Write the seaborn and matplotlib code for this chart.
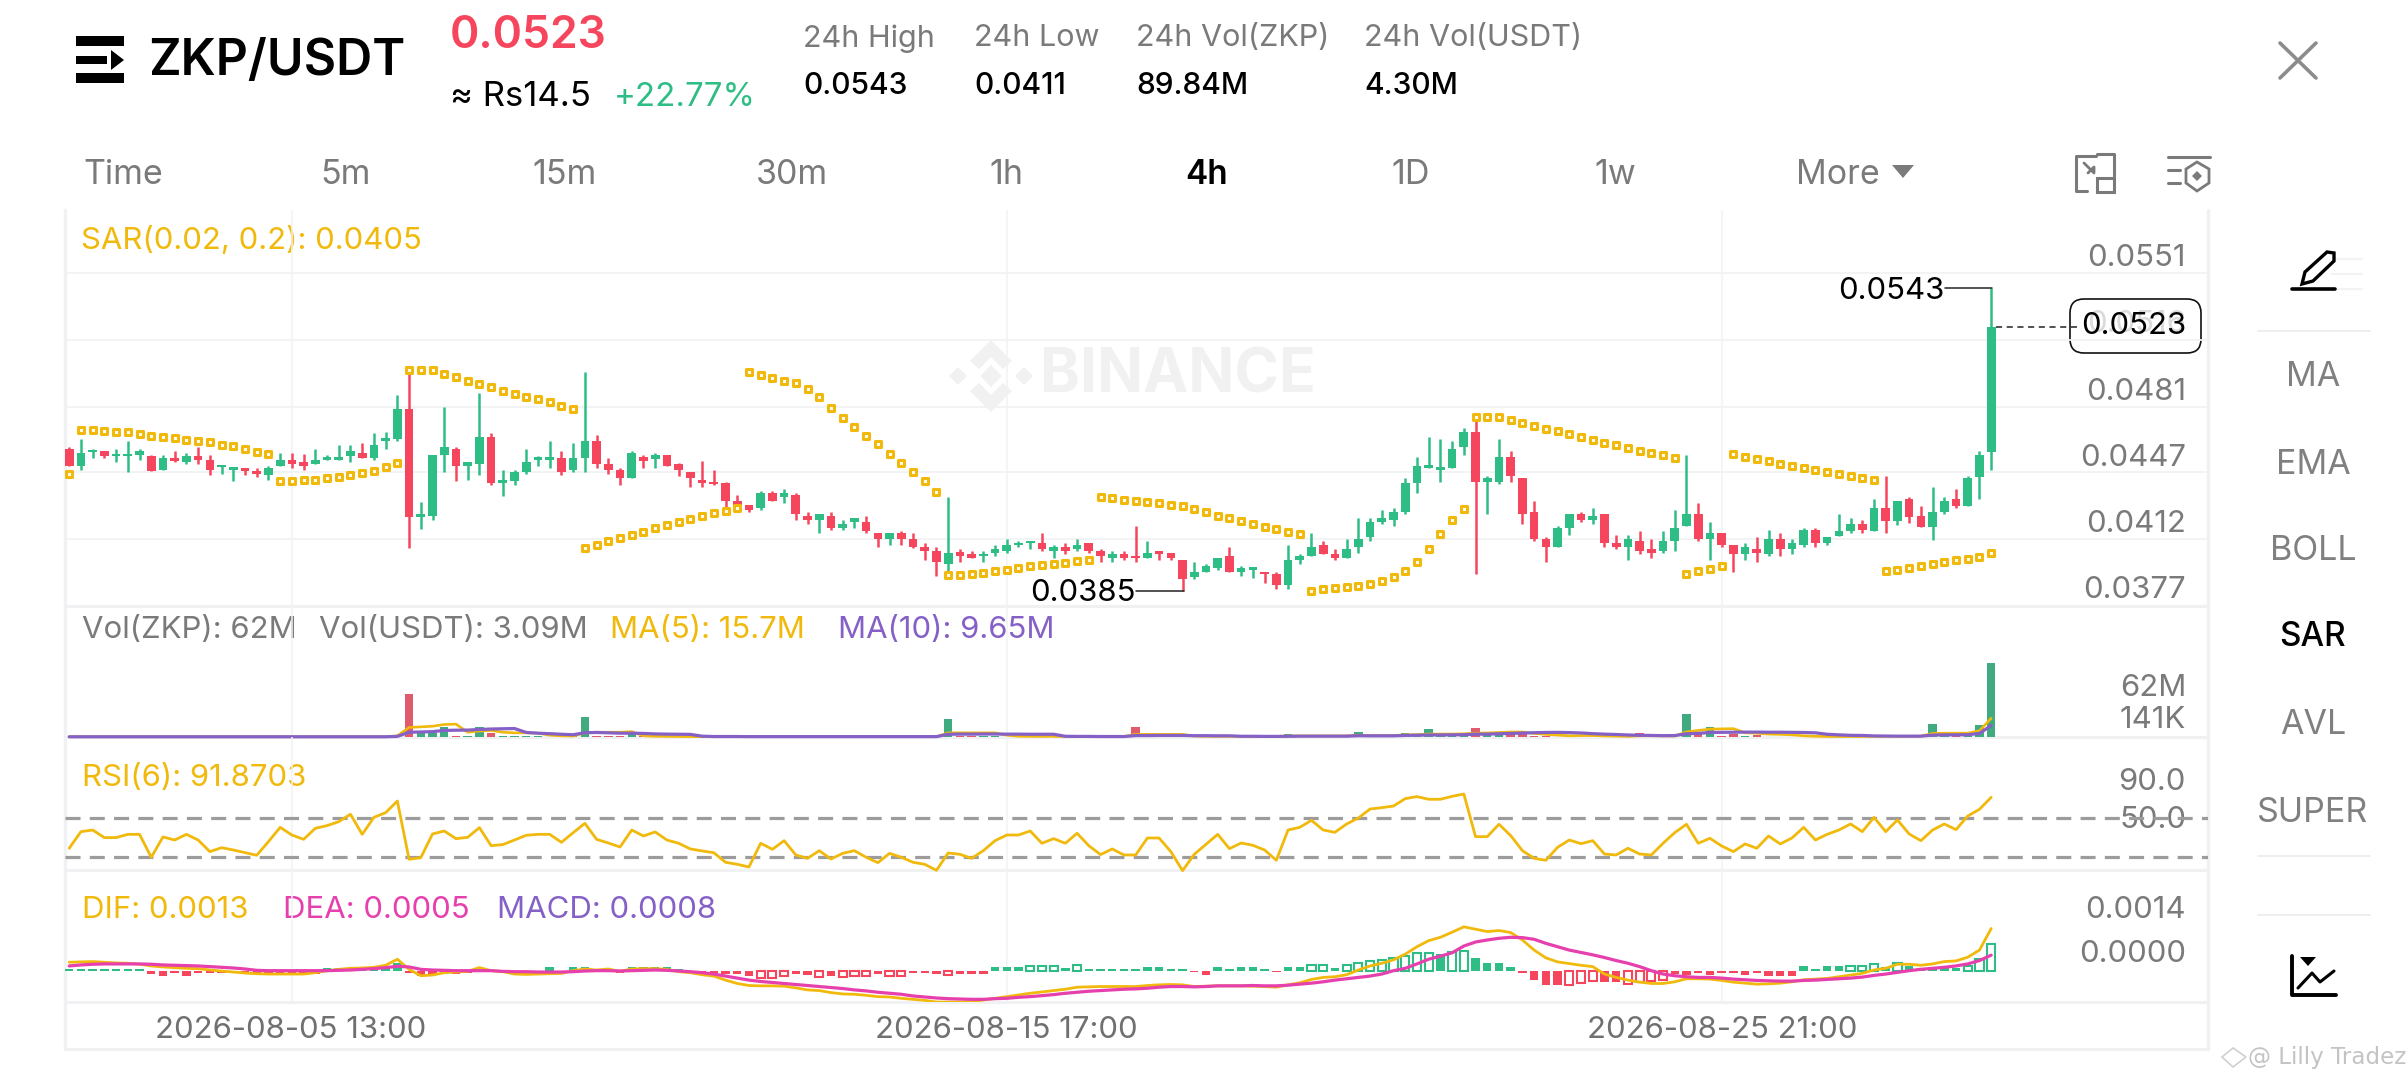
import numpy as np
import pandas as pd
import matplotlib.pyplot as plt
import seaborn as sns
from matplotlib.patches import FancyBboxPatch, Polygon, Rectangle

# 4h candles, prices in 1e-5 USDT
opens = [4592,4503,4574,4580,4552,4552,4560,4552,4482,4541,
         4520,4552,4531,4494,4482,4491,4473,4453,4503,4531,
         4522,4512,4533,4533,4552,4571,4541,4634,4644,4801,
         4233,4242,4560,4592,4503,4512,4653,4413,4421,4472,
         4533,4533,4541,4482,4541,4632,4512,4480,4440,4550,
         4539,4558,4510,4470,4430,4419,4411,4320,4299,4280,
         4360,4339,4350,4240,4219,4240,4179,4210,4210,4150,
         4120,4150,4120,4080,4059,3990,4050,4040,4030,4049,
         4059,4089,4099,4097,4059,4078,4070,4097,4059,4019,
         4040,4030,4019,4059,4049,4010,3920,3950,3970,4030,
         3950,3960,3950,3939,3878,4010,4030,4089,4040,4019,
         4078,4129,4210,4219,4259,4411,4491,4480,4491,4600,
         4679,4419,4419,4550,4440,4259,4120,4080,4179,4250,
         4219,4250,4099,4080,4110,4070,4059,4110,4190,4250,
         4120,4150,4089,4040,4070,4040,4120,4070,4089,4169,
         4099,4134,4160,4200,4163,4280,4212,4331,4242,4183,
         4261,4331,4291,4442,4572]
highs = [4600,4642,4592,4580,4592,4632,4592,4560,4560,4581,
         4571,4602,4560,4507,4496,4491,4491,4503,4571,4571,
         4562,4592,4560,4611,4611,4621,4672,4681,4872,5002,
         4312,4560,4811,4600,4522,4882,4672,4482,4482,4592,
         4552,4632,4581,4621,4992,4661,4543,4489,4579,4558,
         4567,4558,4518,4470,4529,4480,4419,4350,4299,4369,
         4371,4379,4360,4259,4249,4259,4219,4230,4240,4150,
         4150,4160,4150,4097,4078,4339,4070,4059,4059,4089,
         4120,4110,4111,4150,4089,4097,4120,4097,4070,4059,
         4059,4190,4110,4059,4049,4010,4000,3990,4019,4080,
         3979,3974,3950,3948,4089,4040,4150,4110,4070,4120,
         4230,4230,4270,4280,4440,4550,4651,4640,4630,4699,
         4759,4449,4640,4579,4440,4320,4129,4190,4250,4259,
         4280,4250,4139,4139,4160,4120,4160,4270,4558,4310,
         4209,4150,4089,4099,4129,4169,4150,4120,4179,4179,
         4130,4250,4230,4221,4329,4451,4320,4341,4291,4391,
         4339,4381,4447,4581,5430]
lows = [4503,4482,4543,4541,4520,4472,4531,4473,4482,4520,
        4512,4512,4453,4461,4421,4453,4442,4430,4503,4491,
        4482,4512,4533,4533,4520,4541,4533,4592,4634,4073,
        4172,4221,4472,4421,4430,4453,4402,4343,4402,4461,
        4501,4493,4453,4472,4472,4493,4461,4400,4440,4489,
        4489,4501,4451,4390,4390,4400,4289,4299,4259,4270,
        4320,4310,4219,4200,4150,4169,4169,4179,4150,4080,
        4089,4089,4071,4010,3929,3955,4000,4021,4000,4030,
        4049,4078,4070,4059,4019,4040,4059,4049,4000,4000,
        4010,4000,4019,4010,4010,3849,3909,3950,3960,3950,
        3929,3918,3889,3859,3859,3990,4030,4040,4009,4019,
        4049,4110,4200,4190,4250,4360,4491,4419,4491,4560,
        3939,4249,4409,4419,4200,4110,4000,4080,4139,4209,
        4200,4080,4070,4010,4040,4019,4049,4059,4190,4110,
        4010,4080,3950,4010,4000,4030,4030,4040,4080,4080,
        4090,4134,4151,4151,4163,4151,4191,4202,4183,4113,
        4250,4280,4291,4331,4482]
closes = [4503,4571,4587,4552,4566,4566,4578,4473,4541,4526,
          4552,4533,4482,4507,4496,4473,4461,4493,4531,4512,
          4503,4531,4547,4550,4581,4541,4611,4646,4801,4233,
          4251,4560,4600,4503,4522,4653,4413,4426,4472,4522,
          4550,4550,4472,4541,4632,4512,4482,4440,4571,4529,
          4558,4501,4480,4440,4411,4409,4320,4299,4270,4360,
          4320,4360,4249,4219,4249,4179,4200,4230,4160,4120,
          4150,4120,4080,4059,4000,4049,4030,4021,4040,4070,
          4089,4099,4110,4070,4078,4059,4089,4059,4030,4040,
          4019,4019,4049,4040,4019,3909,3950,3979,4019,3950,
          3969,3974,3936,3878,4009,4030,4078,4040,4019,4070,
          4120,4209,4230,4259,4411,4499,4505,4494,4590,4679,
          4419,4438,4550,4451,4250,4120,4080,4179,4250,4219,
          4240,4099,4078,4120,4059,4049,4110,4179,4250,4120,
          4150,4089,4040,4078,4049,4120,4070,4099,4169,4099,
          4130,4160,4200,4169,4280,4212,4320,4233,4183,4261,
          4320,4291,4438,4560,5230]
sar = [4460,4691,4689,4682,4679,4677,4667,4660,4653,4646,4639,4630,4625,4613,4604,4590,4574,4564,
       4421,4423,4426,4430,4437,4444,4454,4463,4475,4496,4517,
       5002,5002,5002,4983,4964,4947,4929,4912,4895,4879,4863,4849,4834,4816,4801,
       4073,4091,4108,4125,4141,4158,4176,4191,4209,4224,4240,4254,4268,4282,
       4990,4976,4962,4948,4933,4905,4863,4806,4753,4705,4659,4618,4565,4517,4471,4423,4367,
       3930,3930,3937,3944,3951,3960,3969,3977,3983,3990,3996,4003,4010,
       4339,4332,4325,4318,4313,4306,4299,4292,4277,4259,4242,4228,4212,4198,4183,4170,4158,4144,
       3850,3857,3862,3869,3875,3887,3901,3924,3953,4000,4066,4148,4219,4278,
       4759,4759,4759,4743,4728,4711,4697,4683,4667,4652,4637,4623,4609,4595,4581,4569,4557,4544,
       3939,3951,3965,3977,
       4562,4548,4539,4525,4513,4503,4492,4480,4470,4459,4449,4438,4430,
       3951,3960,3970,3981,3990,4000,4009,4017,4026,4047]

# volume in millions
volume = [.2,.2,.2,.2,.2,.2,.2,.2,.2,.2, .2,.2,.2,.2,.2,.2,.2,.2,.2,.2,
          .2,.2,.2,.2,.2,.2,.2,.2,.3,36, 3.3,3.3,8.3,.8,.6,8.6,3.3,.7,.6,.5,
          .5,.4,.4,.8,16.7,1,.6,.8,4,.6, .3,.3,.3,.3,.3,.3,.3,.3,.3,.3,
          .3,.3,.3,.3,.3,.3,.3,.3,.3,.3, .3,.3,.3,.3,.3,14.7,.5,.5,.5,.5,
          .4,.4,.4,.3,.3,.3,.3,.3,.3,.3, .4,8,.4,.4,.4,.5,.4,.4,.4,.4,
          .4,.4,.4,.4,2.5,.4,.4,.4,.4,.4, 4,.4,.4,.4,3.3,1.5,6.7,3.3,.5,3,
          7.2,4,4,4,3.3,.5,.5,.4,1,.4, .4,.4,.4,.4,3,.4,.4,.4,19,4,
          8.3,.5,2.7,.5,1.5,.4,.4,.4,.4,.3, .3,.3,.3,.3,.3,.3,.3,.3,.4,11,
          .5,.5,.5,10,62]
vol_ma5 = [.2,.2,.2,.2,.2,.2,.2,.2,.2,.2, .2,.2,.2,.2,.2,.2,.2,.2,.2,.2,
           .2,.2,.2,.2,.2,.2,.2,.2,1,8, 8.5,9,10.5,10.8,4,5,5.5,4,3.5,3.5,
           3.2,1.5,1,.8,3.5,4,4,4,4.5,1, .6,.5,.4,.3,.3,.3,.3,.3,.3,.3,
           .3,.3,.3,.3,.3,.3,.3,.3,.3,.3, .3,.3,.3,.3,.3,3.5,3.5,3.5,3.5,3.5,
           1.5,.6,.5,.5,.5,.4,.4,.4,.4,.4, .4,2.2,2.2,2.2,2.2,2.2,.8,.6,.5,.5,
           .5,.5,.5,.5,.8,.9,.9,.9,.9,.9, 1.5,1.2,1.2,1.2,1.8,2,2.5,2.5,2.5,2.7,
           3.2,3.4,3.8,4.2,4.2,3,2.2,1.6,1,1.2, 1.2,.9,.7,.5,1,1,.9,.8,4.3,5.5,
           6.6,6.8,7,3.5,3.2,2.4,2.2,1.8,1,.6, .4,.4,.4,.4,.5,.5,.6,.6,.7,3,
           3.2,3.2,3.2,5.2,15.7]
vol_ma10 = [.2,.2,.2,.2,.2,.2,.2,.2,.2,.2, .2,.2,.2,.2,.2,.2,.2,.2,.2,.2,
            .2,.2,.2,.2,.2,.2,.2,.2,.5,4, 4.2,4.5,5.5,5.7,5.8,6.3,6.7,6.9,7.1,3.8,
            3.2,2.8,2.3,1.9,3.6,3.8,3.5,3.2,3.2,3, 2.6,2.4,2.3,2.2,.7,.4,.4,.4,.3,.3,
            .3,.3,.3,.3,.3,.3,.3,.3,.3,.3, .3,.3,.3,.3,.3,2.3,2.4,2.4,2.5,2.5,
            2.4,2.4,2.3,2.3,2.3,.6,.5,.5,.4,.4, .4,1.2,1.2,1.3,1.3,1.3,1.1,1.1,1,1,
            .6,.6,.5,.5,.6,.7,.7,.7,.7,.7, 1.1,1,1,1,1.3,1.5,1.7,1.7,1.8,1.9,
            2.4,2.4,2.7,3,3.3,3.6,3.8,3.9,3.7,3.4, 2.8,2.4,2.1,1.7,1.4,1.3,1.1,1.2,2.7,3,
            3.8,3.9,4,4.1,4.1,4,4,3.9,3.8,3.5, 2.3,1.8,1.4,1.3,.9,.8,.7,.7,.7,1.6,
            1.8,1.8,1.9,3,9.65]

rsi = [38.8,56.1,57.8,49.9,49.9,53.3,53.3,29.4,50.6,47.4,
       53.3,47.4,35.3,39.4,37.0,34.2,31.5,45.7,60.6,52.6,
       48.1,59.6,62.4,66.5,74.2,53.3,71.0,75.9,88.0,27.3,
       29.0,53.7,56.8,48.8,50.2,60.3,41.5,42.6,47.4,52.3,
       53.3,53.3,45.0,55.0,64.8,48.1,44.3,40.1,57.8,51.6,
       55.8,47.4,44.0,38.1,36.0,34.2,24.2,22.1,19.3,44.0,
       37.7,46.7,31.8,28.3,36.3,27.6,33.5,36.3,29.4,23.8,
       33.5,29.4,24.2,22.1,15.8,33.9,32.5,28.3,36.3,46.7,
       52.6,52.6,56.8,44.0,48.8,44.0,54.4,41.5,32.2,38.1,
       31.8,31.8,49.5,49.5,35.3,15.5,32.5,42.9,53.3,38.4,
       44.3,41.9,37.0,26.3,57.8,60.6,67.9,57.8,55.4,64.1,
       70.3,79.7,81.1,82.8,90.5,92.6,89.8,89.8,92.9,95.3,
       50.9,50.9,63.8,52.0,36.3,28.3,26.3,39.8,47.4,43.6,
       46.7,32.8,31.8,38.8,32.8,31.8,44.0,55.1,63.8,44.0,
       49.2,41.2,35.3,43.3,38.8,51.6,43.3,49.5,60.6,47.4,
       53.3,57.8,64.1,56.1,71.0,56.1,68.3,53.7,46.7,57.8,
       64.1,58.2,72.4,79.4,91.87]

# MACD panel values in 1e-4
dif = [2.6,2.7,2.8,2.6,2.4,2.3,2.0,1.5,1.2,1.0,
       .8,.7,.3,0,-.3,-.6,-.8,-.9,-.9,-.9,
       -.9,-.5,.1,.5,.8,.9,1.1,1.7,3.5,.5,
       -1.4,-1.2,-.5,-.3,-.1,1.0,.1,-.2,-.9,-1.0,
       -.9,-.8,-.7,.1,.6,.3,.6,-.1,.6,.7,
       .7,.5,-.2,-.5,-1.1,-1.5,-2.7,-3.7,-4.3,-4.4,
       -4.4,-4.5,-5.0,-5.6,-5.8,-6.4,-6.8,-6.9,-7.2,-7.6,
       -7.7,-8.1,-8.4,-8.7,-9.2,-9.2,-9.2,-9.1,-8.6,-8.1,
       -7.6,-7.1,-6.6,-6.2,-5.8,-5.4,-4.8,-4.7,-4.6,-4.6,
       -4.6,-4.6,-4.3,-4.1,-4.0,-4.1,-4.6,-4.5,-4.4,-4.4,
       -4.4,-4.5,-4.6,-4.8,-4.1,-3.5,-2.5,-1.9,-1.7,-1.1,
       .3,1.5,2.3,3.3,5.0,7.2,9.0,10.0,11.5,13.1,
       12.4,11.7,12.0,11.4,9.2,6.2,3.9,2.7,2.2,1.7,
       1.3,-.9,-1.9,-2.7,-3.3,-3.7,-3.7,-3.2,-2.3,-2.3,
       -2.4,-2.8,-3.3,-3.6,-3.9,-3.8,-3.6,-3.2,-2.6,-2.4,
       -2.2,-1.7,-1.2,-.7,.3,.8,2.0,2.0,1.7,2.1,
       2.8,3.0,4.1,6.2,12.6]
dea = [1.5,1.8,2.0,2.1,2.1,2.1,2.1,2.0,1.8,1.7,
       1.6,1.5,1.3,1.1,.9,.6,.2,.1,.1,.1,
       .1,.1,.1,.2,.3,.5,.7,1.0,1.4,1.2,
       .5,.3,.2,.1,.1,.1,.1,-.1,-.2,-.2,
       -.3,-.3,-.3,-.2,0,.1,.1,0,.1,.2,
       .3,.2,0,-.2,-.5,-.9,-1.5,-2.1,-2.7,-3.1,
       -3.4,-3.7,-4.0,-4.3,-4.6,-4.9,-5.2,-5.6,-5.9,-6.3,
       -6.6,-6.9,-7.4,-7.7,-8.0,-8.2,-8.3,-8.4,-8.4,-8.2,
       -8.1,-7.8,-7.6,-7.3,-7.0,-6.6,-6.3,-6.0,-5.8,-5.6,
       -5.4,-5.3,-5.1,-4.8,-4.6,-4.6,-4.7,-4.6,-4.4,-4.4,
       -4.4,-4.3,-4.4,-4.4,-4.2,-3.9,-3.6,-3.2,-2.7,-2.3,
       -1.9,-1.5,-.9,.1,.8,2.1,3.5,4.4,5.4,7.4,
       8.6,9.2,9.7,10.0,9.9,9.4,8.2,7.2,6.2,5.5,
       4.8,4.0,3.1,2.3,1.3,.1,-.9,-1.4,-1.7,-1.9,
       -1.9,-2.1,-2.4,-2.6,-2.8,-2.9,-3.0,-3.0,-2.8,-2.7,
       -2.5,-2.3,-2.1,-1.8,-1.3,-.9,-.4,.1,.5,.8,
       1.1,1.5,2.1,3.1,4.7]
macd = [.7,.7,.7,.7,.7,.7,.7,-.8,-1.5,-.7,
        -1.5,-.7,-.7,-.7,-.7,-.8,-.8,-.8,-.8,-.8,
        -.8,-.8,1.0,1.0,1.0,1.3,1.3,1.3,2.5,-.6,
        -1.5,-1.0,-.6,-.8,-.6,1.0,-.4,-.6,-.8,-.8,
        -.8,1.3,-.9,1.3,1.3,.5,.5,-.5,1.2,1.2,
        1.2,1.2,.5,-.4,-.4,-.5,-1.0,-1.0,-1.5,-2.0,
        -2.0,-1.5,-1.0,-1.2,-1.8,-1.5,-1.8,-1.4,-1.4,-1.0,
        -1.4,-1.4,-.6,-.6,-.8,-1.2,-1.0,-1.0,-1.0,1.2,
        1.2,1.2,1.5,1.5,1.6,1.0,1.8,.7,.5,.5,
        .5,.5,1.2,1.2,.5,.5,-.4,-1.2,1.2,.5,
        1.2,1.2,.5,-.4,1.2,1.2,1.8,1.8,1.0,1.8,
        2.3,3.0,3.4,3.8,4.5,5.2,5.4,5.0,5.6,5.8,
        3.8,2.5,2.3,1.3,-.6,-2.6,-4.0,-4.2,-4.1,-3.5,
        -3.0,-3.3,-3.2,-3.8,-3.2,-3.0,-2.8,-1.0,-1.2,-.5,
        -1.2,-.5,-.5,-1.3,-.5,-1.4,-1.4,-1.4,1.4,.5,
        1.4,1.4,1.5,1.5,2.0,1.3,2.3,1.5,1.0,1.2,
        1.2,.8,1.5,3.5,8.0]
macd_hollow = [59,60,61,64,66,67,68,70,71,75,82,83,84,86,106,107,109,110,111,112,113,114,115,
               116,118,119,128,129,130,133,134,135,136,152,153,154,156,162,163,164]

price_ticks = [0.0551, 0.05162, 0.0481, 0.0447, 0.0412, 0.0377]
price_labels = ['0.0551', '0.0516', '0.0481', '0.0447', '0.0412', '0.0377']
date_idx = [19, 80, 141]
date_labels = ['2026-08-05 13:00', '2026-08-15 17:00', '2026-08-25 21:00']
stats = [('24h High', '0.0543'), ('24h Low', '0.0411'), ('24h Vol(ZKP)', '89.84M'), ('24h Vol(USDT)', '4.30M')]
intervals = ['Time', '5m', '15m', '30m', '1h', '4h', '1D', '1w', 'More']
side_items = ['MA', 'EMA', 'BOLL', 'SAR', 'AVL', 'SUPER']

GREEN = '#2EBD85'
RED = '#F6465D'
YELLOW = '#F0B90B'
PURPLE = '#8560C6'
PINK = '#E63FAE'
GRID = '#F1F2F3'
GREY = '#7A7A7A'

sns.set_theme(style='white')
plt.rcParams['font.family'] = ['Inter', 'DejaVu Sans']

W, H = 2408, 1080
fig = plt.figure(figsize=(W / 100, H / 100), dpi=100, facecolor='white')

# page layer in pixels, sits under the transparent panels
page = fig.add_axes([0, 0, 1, 1], zorder=0)
page.set_xlim(0, W)
page.set_ylim(H, 0)
page.axis('off')


def label(x, y, s, color=GREY, size=22.4, ha='left', weight='normal', **kw):
    return page.text(x, y + 2.5, s, color=color, fontsize=size, ha=ha, va='center', fontweight=weight, **kw)


def panel(top, bottom, ylim):
    ax = fig.add_axes([65 / W, 1 - bottom / H, (2208 - 65) / W, (bottom - top) / H], zorder=1)
    ax.patch.set_alpha(0)
    ax.set_xlim(-0.36, 182.5)
    ax.set_ylim(*ylim)
    return ax


idx = np.arange(len(closes))
o, h, l, c = [np.array(a) / 1e5 for a in (opens, highs, lows, closes)]
up = c >= o
colors = np.where(up, GREEN, RED)

ax_price = panel(210, 606, (0.0377, 0.05839))
ax_vol = panel(606, 737, (0, 109.8))
ax_rsi = panel(737, 869, (17.2, 154.7))
ax_macd = panel(869.5, 1001.7, (-9.1, 30.1))

for ax in (ax_price, ax_vol, ax_rsi, ax_macd):
    ax.vlines(date_idx, *ax.get_ylim(), color=GRID, lw=1.1, zorder=0)

# candles
ax_price.hlines(price_ticks, -0.36, 182.5, color=GRID, lw=1.3, zorder=0)
ax_price.vlines(idx, l, h, colors=colors, lw=1.8, zorder=2)
body = np.maximum(np.abs(c - o), 0.00008)
ax_price.bar(idx, body, bottom=np.minimum(o, c), width=0.74, color=colors, linewidth=0, zorder=2)
sns.scatterplot(x=idx, y=np.array(sar) / 1e5, marker='s', s=20, facecolor='white', edgecolor=YELLOW,
                linewidth=2.2, zorder=3, legend=False, ax=ax_price)
ax_price.set_xlim(-0.36, 182.5)
ax_price.set_ylim(0.0377, 0.05839)

# high, low and last price marks
ax_price.plot([160.1, 164.1], [0.0543, 0.0543], color='#222222', lw=1.1, zorder=4)
ax_price.plot([91.05, 95.1], [0.0385, 0.0385], color='#222222', lw=1.1, zorder=4)
ax_price.plot([164.4, 171.6], [0.0523, 0.0523], color='#222222', lw=1.1, ls=(0, (4, 3)), zorder=4)
ax_price.annotate('0.0543', (160, 0.0543), xytext=(0, -1.8), textcoords='offset points', color='black',
                  fontsize=22.4, ha='right', va='center')
ax_price.annotate('0.0385', (91, 0.0385), xytext=(0, -1.8), textcoords='offset points', color='black',
                  fontsize=22.4, ha='right', va='center')

# volume
vol_df = pd.DataFrame({'i': idx, 'vol': volume, 'dir': np.where(up, 'up', 'down')})
sns.barplot(data=vol_df, x='i', y='vol', hue='dir', palette={'up': GREEN, 'down': RED}, native_scale=True,
            dodge=False, width=0.72, errorbar=None, legend=False, linewidth=0, ax=ax_vol)
sns.lineplot(x=idx, y=vol_ma5, color=YELLOW, lw=1.9, ax=ax_vol, zorder=4, clip_on=False)
sns.lineplot(x=idx, y=vol_ma10, color=PURPLE, lw=2.3, ax=ax_vol, zorder=5, clip_on=False)
ax_vol.set_xlim(-0.36, 182.5)
ax_vol.set_ylim(0, 109.8)

# rsi
ax_rsi.hlines([70, 30], -0.36, 182.5, color='#9C9C9C', lw=2.3, ls=(0, (4.7, 2.9)), zorder=1)
sns.lineplot(x=idx, y=rsi, color=YELLOW, lw=2.0, ax=ax_rsi, zorder=3, clip_on=False)
ax_rsi.set_xlim(-0.36, 182.5)
ax_rsi.set_ylim(17.2, 154.7)

# macd
m = np.array(macd)
solid = ~np.isin(idx, macd_hollow)
macd_colors = np.where(m >= 0, GREEN, RED)
ax_macd.bar(idx[solid], m[solid], width=0.72, color=macd_colors[solid], linewidth=0, zorder=2)
ax_macd.bar(idx[~solid], m[~solid], width=0.7, facecolor='white', edgecolor=macd_colors[~solid],
            linewidth=1.5, zorder=2)
sns.lineplot(x=idx, y=dif, color=YELLOW, lw=2.0, ax=ax_macd, zorder=4)
sns.lineplot(x=idx, y=dea, color=PINK, lw=2.3, ax=ax_macd, zorder=5)
ax_macd.set_xlim(-0.36, 182.5)
ax_macd.set_ylim(-9.1, 30.1)

for ax in (ax_price, ax_vol, ax_rsi, ax_macd):
    ax.axis('off')

# chart frame
for y in (606, 737, 869.5, 1001.7, 1049):
    page.plot([65, 2208], [y, y], color='#F0F1F2', lw=2.2, zorder=1)
for x in (65, 2208):
    page.plot([x, x], [210, 1049], color='#F0F1F2', lw=2.4, zorder=1)

# binance watermark
for cx, cy, r in [(991, 376, 11), (958, 376, 9), (1024, 376, 9)]:
    page.add_patch(Polygon([(cx - r, cy), (cx, cy - r), (cx + r, cy), (cx, cy + r)], fc='#F1F1F1', ec='none'))
page.add_patch(Polygon([(991, 340), (1012, 361), (1003, 369), (991, 357), (979, 369), (970, 361)], fc='#F1F1F1', ec='none'))
page.add_patch(Polygon([(991, 412), (1012, 391), (1003, 383), (991, 395), (979, 383), (970, 391)], fc='#F1F1F1', ec='none'))
label(1040, 374, 'BINANCE', color='#F1F1F1', size=43.5, weight='bold')

# legends
label(81, 238, 'SAR(0.02, 0.2): 0.0405', color=YELLOW)
label(82, 628, 'Vol(ZKP): 62M')
label(319, 628, 'Vol(USDT): 3.09M')
label(610, 628, 'MA(5): 15.7M', color=YELLOW)
label(838, 628, 'MA(10): 9.65M', color=PURPLE)
label(82, 776, 'RSI(6): 91.8703', color=YELLOW)
label(82, 907, 'DIF: 0.0013', color=YELLOW)
label(283, 907, 'DEA: 0.0005', color=PINK)
label(497, 907, 'MACD: 0.0008', color=PURPLE)

# axis labels
for y, s in zip([255, 321, 389, 455, 521, 587], price_labels):
    if s == '0.0516':
        label(2186, y, s, color='#DADADA', ha='right')
    else:
        label(2186, y, s, ha='right')
page.add_patch(FancyBboxPatch((2082, 311), 107, 30, boxstyle='round,pad=12,rounding_size=14', fc=(1, 1, 1, 0.35),
                              ec='#111111', lw=1.2, zorder=2))
label(2186, 324, '0.0523', color='black', ha='right', zorder=3)
label(2186, 685, '62M', ha='right')
label(2186, 718, '141K', ha='right')
label(2186, 779, '90.0', ha='right')
label(2186, 818, '50.0', ha='right')
label(2186, 908, '0.0014', ha='right')
label(2186, 951, '0.0000', ha='right')
for cx, s in zip([291, 1006.5, 1722], date_labels):
    label(cx, 1027, s, color='#707070', ha='center')

# header
page.add_patch(Rectangle((76, 36), 48, 10, fc='black', ec='none'))
page.add_patch(Rectangle((76, 73), 48, 10, fc='black', ec='none'))
page.add_patch(Rectangle((76, 56), 31, 8, fc='black', ec='none'))
page.add_patch(Polygon([(111, 50), (124, 60), (111, 70)], fc='black', ec='none'))
label(148, 59, 'ZKP/USDT', color='black', size=36, weight='semibold')
label(450, 34, '0.0523', color=RED, size=32, weight='semibold')
label(450, 95, '≈ Rs14.5', color='black', size=25)
label(614, 95, '+22.77%', color=GREEN, size=23.8)
for x, (name, val) in zip([803, 974, 1136, 1364], stats):
    label(x, 36, name, size=22)
    label(x, 83, val, color='black', size=21.5, weight='medium')

for cx, s in zip([83, 345, 565, 792, 1006, 1207, 1411, 1615, 1838], intervals):
    if s == 'Time':
        label(cx, 172, s, size=24.5)
    elif s == '4h':
        label(cx, 172, s, color='black', size=24, ha='center', weight='semibold')
    else:
        label(cx, 172, s, size=24.5, ha='center')
page.add_patch(Polygon([(1892, 165), (1914, 165), (1903, 178)], fc=GREY, ec='none'))

# close button
page.plot([2280, 2316], [43, 78], color='#8C8C8C', lw=2.6, solid_capstyle='round')
page.plot([2316, 2280], [43, 78], color='#8C8C8C', lw=2.6, solid_capstyle='round')

# toolbar icons
page.plot([2096, 2076, 2076, 2087], [156, 156, 191, 191], color=GREY, lw=2.2)
page.plot([2097, 2114, 2114], [154, 154, 176], color=GREY, lw=2.2)
page.add_patch(Rectangle((2097, 178), 17, 14, fc='none', ec=GREY, lw=2.2))
page.plot([2084, 2094, 2094, 2088], [163, 173, 167, 173], color=GREY, lw=2)
page.plot([2168, 2210], [157, 157], color=GREY, lw=2.2)
page.plot([2168, 2180], [170, 170], color=GREY, lw=2.2)
page.plot([2168, 2180], [183, 183], color=GREY, lw=2.2)
page.add_patch(Polygon([(2197, 162), (2209, 169), (2209, 183), (2197, 191), (2186, 183), (2186, 169)], fc='none', ec=GREY, lw=2))
page.add_patch(Polygon([(2197, 171), (2202, 176), (2197, 181), (2192, 176)], fc=GREY, ec='none'))

# side menu
for y, s in zip([375, 462, 549, 635, 723, 810], side_items):
    if s == 'SAR':
        label(2313, y, s, color='black', size=24, ha='center', weight='medium')
    else:
        label(2313, y, s, color='#808080', size=24.5, ha='center')
for y in (331, 856, 915):
    page.plot([2258, 2370], [y, y], color='#EEEEEE', lw=1.4)
for y in (259, 274, 289):
    page.plot([2332, 2362], [y, y], color='#F3F3F3', lw=1.6)
page.add_patch(Polygon([(2302, 284), (2305, 272), (2327, 252), (2334, 253), (2334, 261), (2313, 281)],
                       fc='white', ec='black', lw=2.4, zorder=2))
page.plot([2292, 2335], [289, 289], color='black', lw=2.6, zorder=2)
page.plot([2292, 2292, 2336], [956, 995, 995], color='black', lw=2.8)
page.plot([2298, 2312, 2320, 2334], [988, 973, 982, 971], color='black', lw=2.2)
page.add_patch(Polygon([(2300, 957), (2316, 957), (2308, 966)], fc='black', ec='none'))

# repost mark
page.add_patch(Polygon([(2222, 1057), (2233, 1048), (2246, 1057), (2233, 1067)], fc='none', ec='#D0D0D0', lw=1.2))
label(2248, 1055, '@ Lilly Tradez', color='#C4C4C4', size=16.6, family=['DejaVu Sans'])

fig.savefig('out.png', dpi=100, facecolor='white')
